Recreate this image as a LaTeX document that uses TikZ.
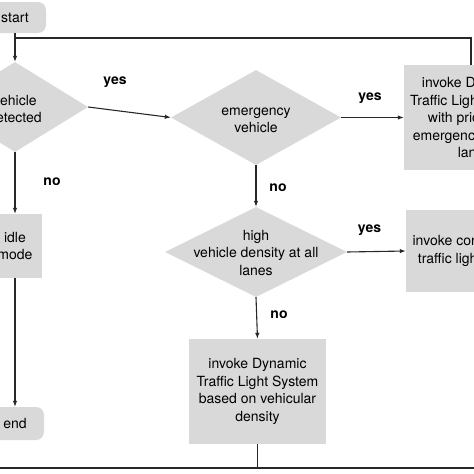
\documentclass[tikz,border=0pt]{standalone}
\usepackage{fontspec}
\setmainfont{TeX Gyre Heros}
\usetikzlibrary{shapes.geometric,arrows.meta}
\definecolor{boxgray}{RGB}{217,217,217}
\definecolor{linegray}{RGB}{40,40,40}
\begin{document}
\begin{tikzpicture}[x=1pt,y=-1pt,
  every node/.style={font=\fontsize{14}{17.5}\selectfont, text=black},
  proc/.style={rectangle, fill=boxgray, draw=none, align=center, inner sep=0pt},
  term/.style={rectangle, rounded corners=8pt, fill=boxgray, align=center, inner sep=0pt},
  decision/.style={diamond, fill=boxgray, inner sep=0pt},
  dtext/.style={align=center, inner sep=0pt},
  conn/.style={draw=linegray, line width=1.1pt},
  arr/.style={conn, -{Latex[length=6pt,width=4.5pt]}},
  lbl/.style={font=\bfseries\fontsize{14}{17}\selectfont, inner sep=0pt}
]
\useasboundingbox (0,0) rectangle (474,474);
\clip (0,0) rectangle (474,474);

% nodes
\node[term, minimum width=62pt, minimum height=31pt] (start) at (15,17.5) {start};
\node[decision, minimum width=146pt, minimum height=90pt] (det) at (15,107) {};
\node[dtext] (detT) at (15,109) {vehicle\\detected};
\node[proc, minimum width=54pt, minimum height=64pt] (idle) at (15,246) {idle\\mode};
\node[term, minimum width=58pt, minimum height=33pt] (end) at (15,423.5) {end};

\node[decision, minimum width=170pt, minimum height=95pt] (emg) at (256,117.5) {};
\node[dtext] (emgT) at (256,120.5) {emergency\\vehicle};
\node[decision, minimum width=182pt, minimum height=90pt] (high) at (256,252) {};
\node[dtext] (highT) at (256,252.5) {high\\vehicle density at all\\lanes};

\node[proc, minimum width=134pt, minimum height=105pt] (dyn1) at (471,117.5)
  {invoke Dynamic\\Traffic Light System\\with priority to\\emergency vehicle\\lane};
\node[proc, minimum width=135pt, minimum height=82pt] (conv) at (473.5,251)
  {invoke conventional\\traffic light system};
\node[proc, minimum width=137pt, minimum height=105pt] (dyn2) at (257.5,391.5)
  {invoke Dynamic\\Traffic Light System\\based on vehicular\\density};

% labels
\node[lbl] (y1) at (115,82) {yes};
\node[lbl] (y2) at (370,98) {yes};
\node[lbl] (y3) at (369.5,230) {yes};
\node[lbl] (n1) at (52,182) {no};
\node[lbl] (n2) at (278,188) {no};
\node[lbl] (n3) at (279,315) {no};

% connectors
\coordinate (loopR) at (471,38);
\coordinate (loopL) at (15,38);
\coordinate (bL) at (-5,468);
\coordinate (bR) at (480,468);
\coordinate (bM) at (257.5,468);

\draw[arr] (start) -- (det);
\draw[conn] (dyn1.north) -- (loopR) -- (loopL);
\draw[arr] (det.east) -- (emg.west);
\draw[arr] (emg.east) -- (dyn1.west);
\draw[arr] (emg.south) -- (high.north);
\draw[arr] (high.east) -- (conv.west);
\draw[arr] (high.south) -- (dyn2.north);
\draw[arr] (det.south) -- (idle.north);
\draw[arr] (idle.south) -- (end.north);
\draw[conn] (dyn2.south) -- (bM);
\draw[conn] (bL) -- (bR);
\end{tikzpicture}
\end{document}
